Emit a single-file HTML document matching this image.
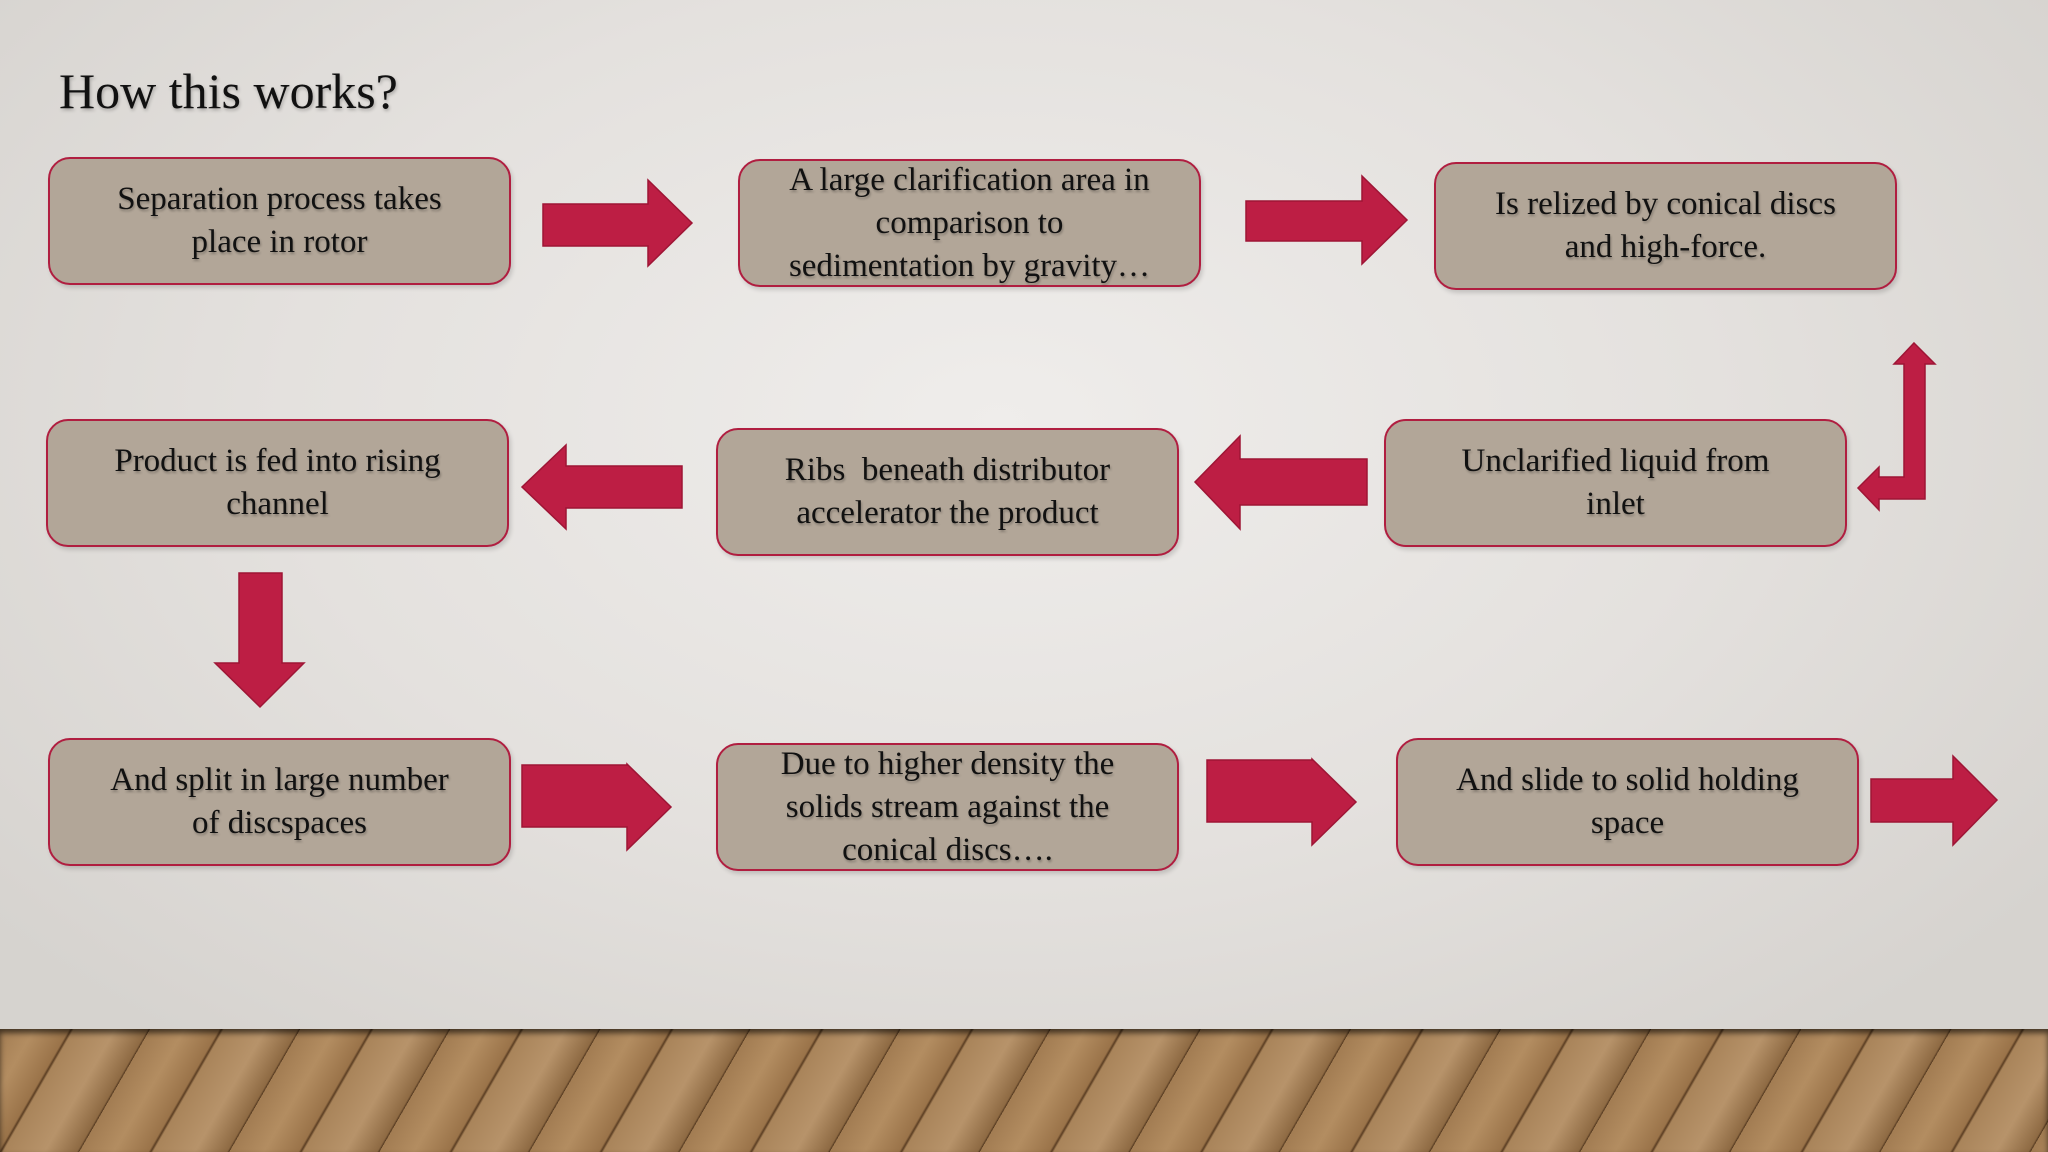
<!DOCTYPE html>
<html><head><meta charset="utf-8"><style>
html,body{margin:0;padding:0}
body{width:2048px;height:1152px;position:relative;overflow:hidden;font-family:"Liberation Serif",serif;
background:radial-gradient(ellipse 1300px 800px at 1000px 420px,#efedeb 0%,#e4e1de 55%,#d6d3cf 100%);}
.t{position:absolute;left:59px;top:62px;font-size:50px;color:#111;text-shadow:1px 2px 3px rgba(0,0,0,.25)}
.b{position:absolute;box-sizing:border-box;width:463px;height:128px;background:#b2a698;border:2.5px solid #b01e40;border-radius:22px;
display:flex;align-items:center;justify-content:center;text-align:center;font-size:33px;line-height:43px;color:#111;
text-shadow:1px 2px 2px rgba(0,0,0,.25);box-shadow:2px 3px 4px rgba(0,0,0,.15)}
.floor{position:absolute;left:0;top:1029px;width:2048px;height:123px;
background:repeating-linear-gradient(120deg,#a27c52 0px,#b38d61 30px,#9a7349 60px,#5a3d22 62px,#a9845a 64px,#b7936a 100px,#8e6a43 128px,#4e341c 130px);
box-shadow:inset 0 4px 6px rgba(0,0,0,.6)}
svg{position:absolute;left:0;top:0}
</style></head><body>
<div class="t">How this works?</div>
<div class="b" style="left:48px;top:157px">Separation process takes<br>place in rotor</div>
<div class="b" style="left:738px;top:159px">A large clarification area in<br>comparison to<br>sedimentation by gravity…</div>
<div class="b" style="left:1434px;top:162px">Is relized by conical discs<br>and high-force.</div>
<div class="b" style="left:46px;top:419px">Product is fed into rising<br>channel</div>
<div class="b" style="left:716px;top:428px">Ribs&nbsp; beneath distributor<br>accelerator the product</div>
<div class="b" style="left:1384px;top:419px">Unclarified liquid from<br>inlet</div>
<div class="b" style="left:48px;top:738px">And split in large number<br>of discspaces</div>
<div class="b" style="left:716px;top:743px">Due to higher density the<br>solids stream against the<br>conical discs….</div>
<div class="b" style="left:1396px;top:738px">And slide to solid holding<br>space</div>
<svg width="2048" height="1152" viewBox="0 0 2048 1152">
<g fill="#bd1e44" stroke="#9e1535" stroke-width="1.5">
<polygon points="543,204 648,204 648,180 692,223 648,266 648,246 543,246"/>
<polygon points="1246,201 1362,201 1362,176 1407,220 1362,264 1362,241 1246,241"/>
<polygon points="522,765 627,765 627,764 671,807 627,850 627,827 522,827"/>
<polygon points="1207,760 1312,760 1312,759 1356,802 1312,845 1312,822 1207,822"/>
<polygon points="1871,779 1953,779 1953,756 1997,800 1953,845 1953,822 1871,822"/>
<polygon points="682,466 566,466 566,445 522,487 566,529 566,508 682,508"/>
<polygon points="1367,459 1240,459 1240,436 1195,482 1240,529 1240,505 1367,505"/>
<polygon points="239,573 282,573 282,663 304,663 260,707 215,663 239,663"/>
<polygon points="1914,343 1935,364 1925,364 1925,499 1879,499 1879,510 1858,488 1879,467 1879,477 1904,477 1904,364 1894,364"/>
</g>
</svg>
<div class="floor"></div>
</body></html>
